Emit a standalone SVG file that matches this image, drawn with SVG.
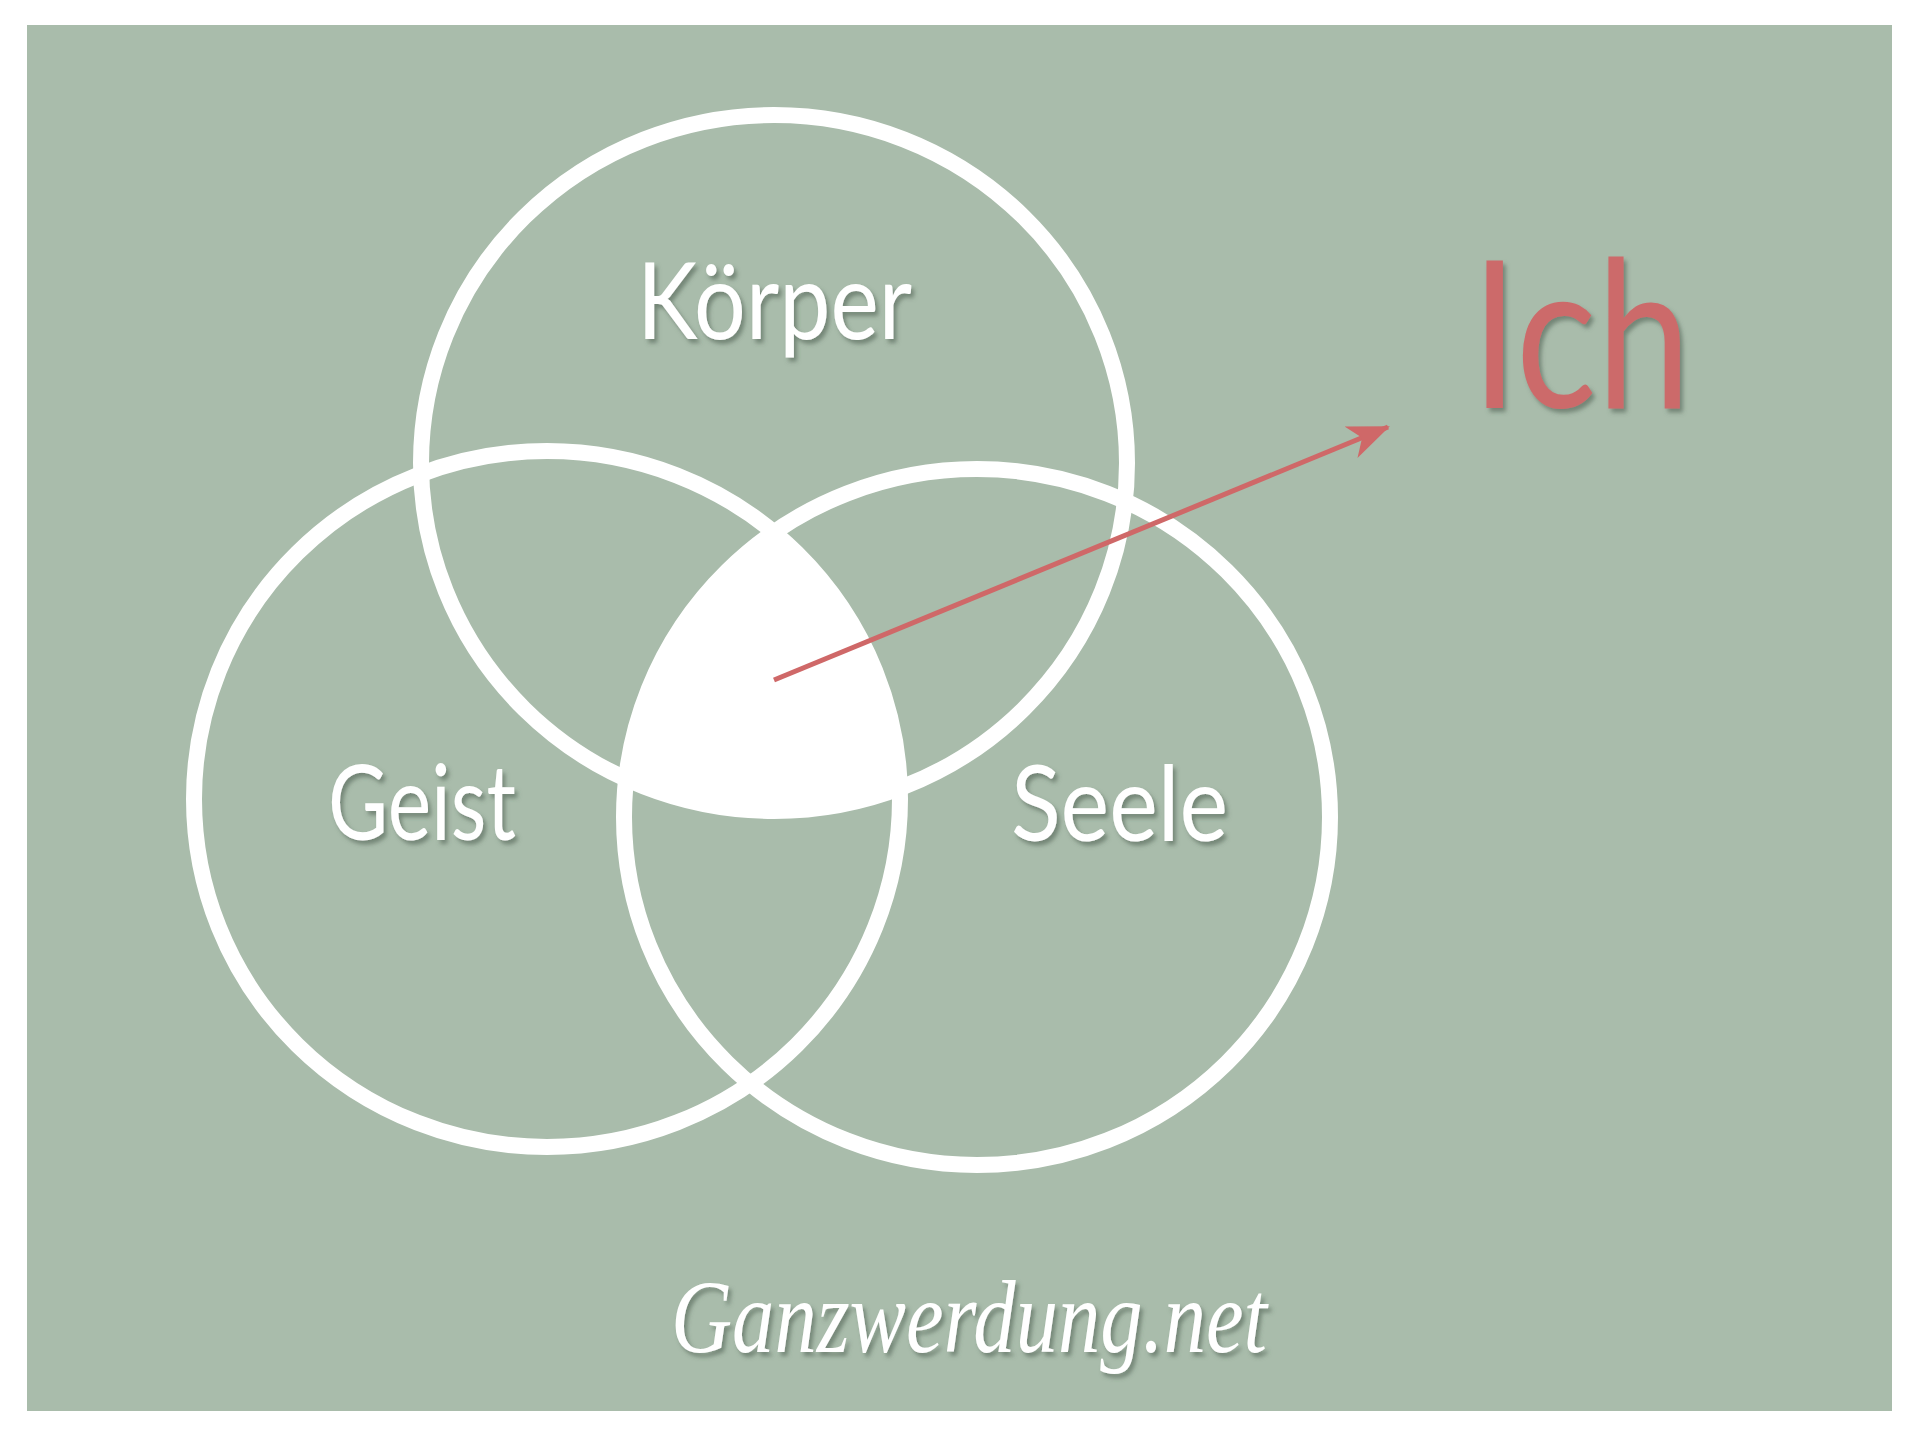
<svg xmlns="http://www.w3.org/2000/svg" width="1920" height="1440" viewBox="0 0 1920 1440">
  <style>
    .ring { fill: none; stroke: #ffffff; stroke-width: 16; }
    .lbl { fill: #ffffff; font-family: "Lato", "Liberation Sans", sans-serif; font-weight: 400; filter: url(#shadow); }
    .ich { fill: #cc6b6b; font-family: "Lato", "Liberation Sans", sans-serif; font-weight: 400; filter: url(#shadow); }
    .script { fill: #ffffff; font-family: "Liberation Serif", "DejaVu Serif", cursive; font-style: italic; font-weight: 400; filter: url(#shadow); }
    .arrow { stroke: #cf6868; stroke-width: 5; fill: none; }
  </style>
  <defs>
    <filter id="shadow" x="-10%" y="-10%" width="130%" height="140%">
      <feDropShadow dx="3" dy="4" stdDeviation="2" flood-color="#4a5a4c" flood-opacity="0.55"/>
    </filter>
    <clipPath id="clipTop"><ellipse cx="774" cy="463" rx="353" ry="348"/></clipPath>
    <clipPath id="clipLeft"><ellipse cx="547" cy="799" rx="353" ry="348"/></clipPath>
    <marker id="head" markerUnits="userSpaceOnUse" markerWidth="46" markerHeight="40" refX="40" refY="18" orient="auto">
      <path d="M0,1 L42,18 L0,35 L12,18 Z" fill="#cf6868"/>
    </marker>
  </defs>
  <rect x="0" y="0" width="1920" height="1440" fill="#ffffff"/>
  <rect x="27" y="25" width="1865" height="1386" fill="#a9bcab"/>

  <g id="center-region" clip-path="url(#clipTop)">
    <g clip-path="url(#clipLeft)">
      <ellipse cx="977" cy="817" rx="353" ry="348" fill="#ffffff"/>
    </g>
  </g>

  <g id="koerper">
    <ellipse class="ring" cx="774" cy="463" rx="353" ry="348"/>
    <text class="lbl" x="637" y="339" font-size="106" textLength="275" lengthAdjust="spacingAndGlyphs">Körper</text>
  </g>
  <g id="geist">
    <ellipse class="ring" cx="547" cy="799" rx="353" ry="348"/>
    <text class="lbl" x="328" y="840" font-size="104" textLength="188" lengthAdjust="spacingAndGlyphs">Geist</text>
  </g>
  <g id="seele">
    <ellipse class="ring" cx="977" cy="817" rx="353" ry="348"/>
    <text class="lbl" x="1011" y="841" font-size="104" textLength="217" lengthAdjust="spacingAndGlyphs">Seele</text>
  </g>
  <g id="ich">
    <text class="ich" x="1471" y="408" font-size="205" textLength="220" lengthAdjust="spacingAndGlyphs">Ich</text>
  </g>

  <g id="connectors">
    <line class="arrow" x1="774" y1="680" x2="1388" y2="427" marker-end="url(#head)"/>
  </g>

  <g id="footer">
    <text class="script" x="671" y="1352" font-size="104" textLength="596" lengthAdjust="spacingAndGlyphs">Ganzwerdung.net</text>
  </g>
</svg>
